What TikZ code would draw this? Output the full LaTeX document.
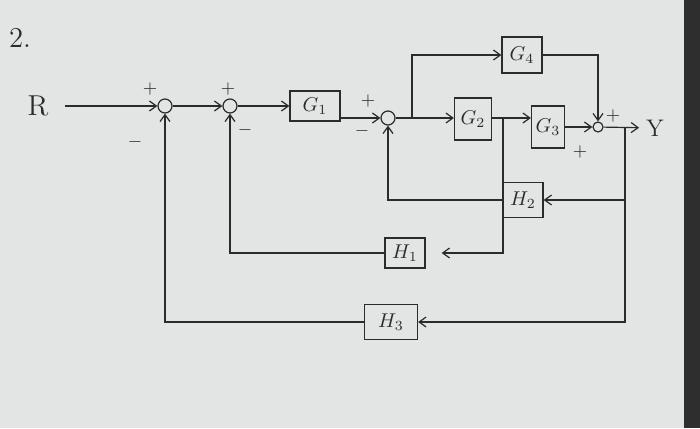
\documentclass[tikz,border=0pt]{standalone}
\usepackage{tikz}
\usetikzlibrary{arrows.meta,positioning}
\definecolor{paper}{HTML}{E3E5E4}
\definecolor{ink}{HTML}{2B2B2B}
\definecolor{edge}{HTML}{2E2E2E}
\tikzset{
  arrow/.style={-{Straight Barb[length=3.5pt,width=5pt]},line width=0.6pt,color=ink},
  wire/.style={line width=0.6pt,color=ink},
}

\begin{document}
\begin{tikzpicture}[x=0.5pt,y=-0.5pt,
  block/.style={rectangle,draw=ink,line width=0.6pt,inner sep=0pt,text=ink},
  sumpt/.style={circle,draw=ink,line width=0.6pt,minimum size=7pt,inner sep=0pt},
  sign/.style={font=\small,text=ink,inner sep=0pt}]

  \fill[paper] (0,0) rectangle (700,428);
  \fill[edge] (684,0) rectangle (700,428);
  \useasboundingbox (0,0) rectangle (700,428);

  \node[font=\Large,text=ink] (num) at (20,38) {2.};
  \node[font=\Large,text=ink] (R) at (38,106) {R};

  % forward path
  \node[sumpt] (s1) at (165,106) {};
  \node[sumpt] (s2) at (230,106) {};
  \node[block,minimum width=25pt,minimum height=15pt] (G1) at (315,106) {$G_1$};
  \node[sumpt] (s3) at (388,118) {};
  \node[block,minimum width=18.5pt,minimum height=21pt] (G2) at (473,119) {$G_2$};
  \node[block,minimum width=16.5pt,minimum height=21pt] (G3) at (548,127) {$G_3$};
  \node[block,minimum width=20pt,minimum height=18pt] (G4) at (522,55) {$G_4$};
  \node[sumpt,minimum size=5pt] (s4) at (598,127) {};
  \node[font=\large,text=ink] (Y) at (655,128) {Y};

  % feedback blocks
  \node[block,minimum width=20pt,minimum height=17.5pt] (H2) at (523,200) {$H_2$};
  \node[block,minimum width=20pt,minimum height=15pt] (H1) at (405,253) {$H_1$};
  \node[block,minimum width=26.5pt,minimum height=17.5pt] (H3) at (391,322) {$H_3$};

  % signs
  \node[sign] (p1) at (150,89) {$+$};
  \node[sign] (m1) at (135,142) {$-$};
  \node[sign] (p2) at (228,89) {$+$};
  \node[sign] (m2) at (245,130) {$-$};
  \node[sign] (p3) at (368,101) {$+$};
  \node[sign] (m3) at (362,131) {$-$};
  \node[sign] (p4) at (580,152) {$+$};
  \node[sign] (p5) at (613,116) {$+$};

  \coordinate (b1) at (412,118);
  \coordinate (b2) at (503,118);
  \coordinate (b3) at (625,127);

  \draw[arrow,shorten <=5pt] (R) -- (s1);
  \draw[arrow] (s1) -- (s2);
  \draw[arrow] (s2) -- (G1);
  \draw[arrow] (G1.east |- s3) -- (s3);
  \draw[arrow] (s3) -- (s3 -| G2.west);
  \draw[arrow] (b1) |- (G4);
  \draw[arrow] (G2.east |- b2) -- (b2 -| G3.west);
  \draw[arrow] (G3) -- (s4);
  \draw[arrow] (G4) -| (s4);
  \draw[arrow] (s4) -- (Y);

  \draw[arrow,shorten >=8pt] (b2) |- (H1);
  \draw[arrow] (H2) -| (s3);
  \draw[arrow] (H1) -| (s2);
  \draw[arrow] (b3 |- H2) -- (H2);
  \draw[arrow] (b3) |- (H3);
  \draw[arrow] (H3) -| (s1);
\end{tikzpicture}
\end{document}
